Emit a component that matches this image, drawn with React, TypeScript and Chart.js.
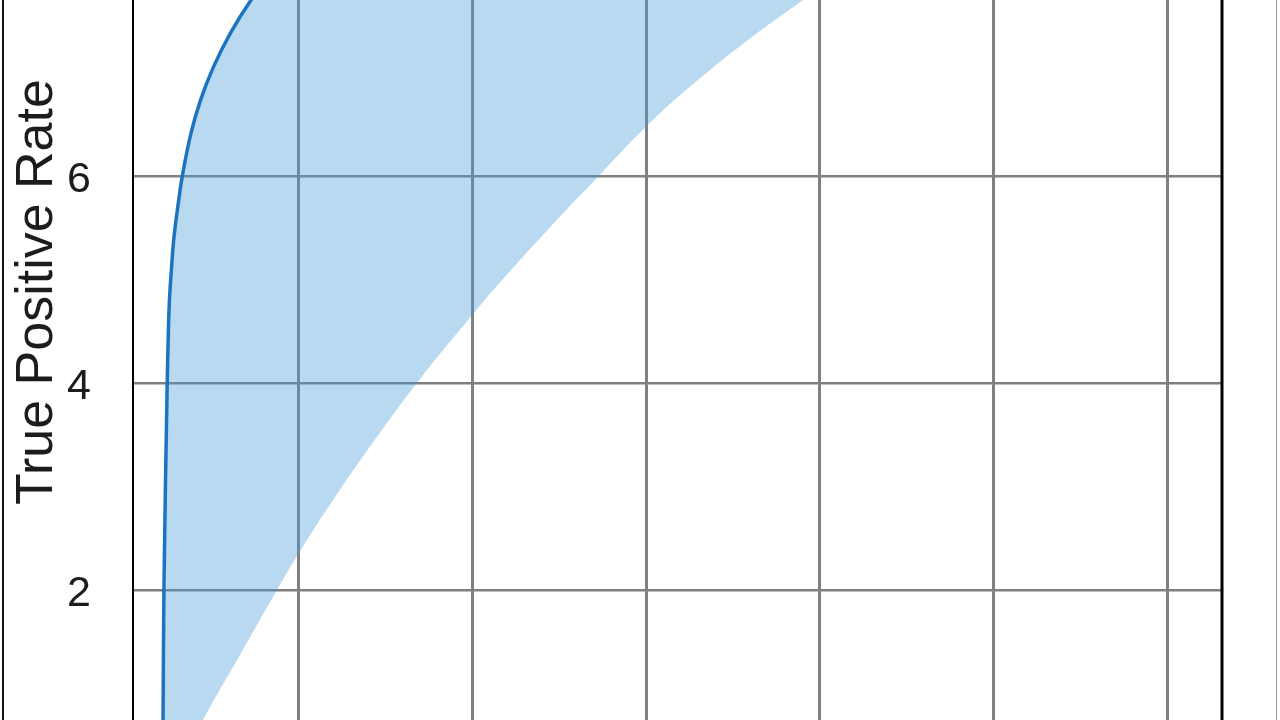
import { useEffect, useRef } from 'react';
import { Chart, registerables, Plugin } from 'chart.js';

Chart.register(...registerables);

// upper edge of the band (the solid blue ROC line)
const upperFpr = [0.212, 0.218, 0.223, 0.242, 0.248, 0.254, 0.266, 0.281, 0.306, 0.329, 0.379, 0.434, 0.508, 0.606, 0.724, 0.897];
const upperTpr = [0, 0.744, 2.0, 4.0, 4.444, 4.773, 5.092, 5.411, 5.739, 6.0, 6.415, 6.734, 7.053, 7.382, 7.7, 8.087];

// lower edge of the shaded band
const lowerFpr = [0.229, 0.448, 0.661, 0.874, 1.007, 1.197, 1.392, 1.68, 2.003, 2.176, 2.504, 2.734, 3.005, 3.27, 3.558, 3.903, 4.289];
const lowerTpr = [0, 0.744, 1.372, 2.0, 2.377, 2.87, 3.343, 4.0, 4.667, 5.005, 5.609, 6.014, 6.488, 6.889, 7.28, 7.7, 8.145];

const yTicks = [0, 2, 4, 6, 8];
const xGrid = [1, 2, 3, 4, 5, 6];
const xMin = 0.045;
const xMax = 6.316;
const yMin = 0;
const yMax = 9.76;

const LINE_BLUE = '#1c74c0';
const BAND_FILL = 'rgba(70, 155, 215, 0.38)';
const GRID = '#808080';
const TEXT = '#1c1c1c';
const FONT = "'Liberation Sans', Arial, sans-serif";

const framePlugin: Plugin<'line'> = {
  id: 'rightFrame',
  afterDraw(chart) {
    const { ctx, chartArea } = chart;
    ctx.save();
    ctx.strokeStyle = '#000';
    ctx.lineWidth = 3;
    ctx.beginPath();
    ctx.moveTo(chartArea.right, chartArea.top);
    ctx.lineTo(chartArea.right, chartArea.bottom);
    ctx.stroke();
    ctx.restore();
  },
};

const App = () => {
  const canvasRef = useRef<HTMLCanvasElement | null>(null);
  const chartRef = useRef<Chart | null>(null);

  useEffect(() => {
    if (!canvasRef.current) return;
    const ctx = canvasRef.current.getContext('2d');
    if (!ctx) return;
    if (chartRef.current) chartRef.current.destroy();

    const upper = upperFpr.map((x, i) => ({ x, y: upperTpr[i] }));
    const lower = lowerFpr.map((x, i) => ({ x, y: lowerTpr[i] }));
    // closed outline: up along the ROC line, back down along the lower edge
    const band = [...upper, ...lower.slice().reverse()];

    chartRef.current = new Chart(ctx, {
      type: 'line',
      data: {
        datasets: [
          {
            label: 'ROC',
            data: upper,
            borderColor: LINE_BLUE,
            borderWidth: 3.5,
            pointRadius: 0,
            fill: false,
            tension: 0.4,
            order: 0,
          },
          {
            label: 'band',
            data: band,
            borderWidth: 0,
            borderColor: 'rgba(0,0,0,0)',
            backgroundColor: BAND_FILL,
            pointRadius: 0,
            fill: 'shape',
            tension: 0.4,
            order: 1,
          },
        ],
      },
      options: {
        animation: false,
        responsive: true,
        maintainAspectRatio: false,
        layout: { padding: { left: 0, right: 58, top: 0, bottom: 0 } },
        plugins: {
          legend: { display: false },
          tooltip: { enabled: false },
        },
        scales: {
          x: {
            type: 'linear',
            min: xMin,
            max: xMax,
            afterBuildTicks: (s) => {
              s.ticks = xGrid.map((value) => ({ value }));
            },
            afterFit: (s) => {
              s.height = 0;
            },
            ticks: { display: false },
            grid: { color: GRID, lineWidth: 3, drawTicks: false },
            border: { display: false },
          },
          y: {
            type: 'linear',
            min: yMin,
            max: yMax,
            afterBuildTicks: (s) => {
              s.ticks = yTicks.map((value) => ({ value }));
            },
            afterFit: (s) => {
              s.width = 133;
              s.paddingTop = 0;
              s.paddingBottom = 0;
            },
            ticks: {
              font: { family: FONT, size: 43 },
              color: TEXT,
              padding: 42,
              labelOffset: 4,
            },
            grid: { color: GRID, lineWidth: 2.5, drawTicks: false },
            border: { display: true, color: '#000', width: 2 },
            title: {
              display: true,
              text: 'True Positive Rate',
              color: TEXT,
              font: { family: FONT, size: 52 },
              padding: { top: 6, bottom: 0 },
            },
          },
        },
      },
      plugins: [framePlugin],
    });

    return () => {
      if (chartRef.current) {
        chartRef.current.destroy();
        chartRef.current = null;
      }
    };
  }, []);

  return (
    <div
      style={{
        position: 'fixed',
        top: 0,
        left: 0,
        width: 1280,
        height: 720,
        overflow: 'hidden',
        background: '#fff',
      }}
    >
      <div style={{ position: 'absolute', left: 0, top: -213, width: 1280, height: 1010 }}>
        <canvas ref={canvasRef} />
      </div>
      <div
        style={{
          position: 'absolute',
          left: 2,
          top: 0,
          width: 1275,
          height: 720,
          boxSizing: 'border-box',
          borderLeft: '2px solid #111',
          borderRight: '1px solid #999',
          pointerEvents: 'none',
        }}
      />
    </div>
  );
};

export default App;
